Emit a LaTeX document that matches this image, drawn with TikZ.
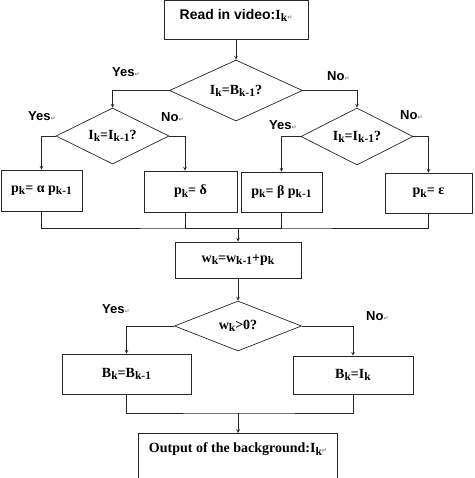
\documentclass[tikz,border=0pt]{standalone}
\usepackage{fontspec}
\setmainfont{Liberation Serif}
\newfontfamily\labelfont{Liberation Sans}
\newfontfamily\markfont{DejaVu Sans}
\usetikzlibrary{shapes.geometric}
\newcommand{\sub}[1]{\raisebox{-0.35ex}{\fontsize{11.5}{12}\selectfont #1}}
\newcommand{\ret}{{\markfont\fontsize{6}{6}\selectfont\color{gray}↵}}
\tikzset{
    flow/.style={draw=black!85, line width=0.7pt},
    box/.style={flow, rectangle, inner sep=0pt, font=\bfseries\fontsize{14}{16}\selectfont},
    cond/.style={flow, diamond, inner sep=0pt, shape aspect=2, font=\bfseries\fontsize{14}{16}\selectfont},
    lbl/.style={anchor=west, inner sep=0pt, font=\labelfont\bfseries\fontsize{13}{15}\selectfont},
    link/.style={flow, ->, >=stealth},
}
\begin{document}
\begin{tikzpicture}[x=1pt,y=-1pt]
        \useasboundingbox (0,0) rectangle (474,478);
        \def\boxHeight{41pt}

        \node[box, minimum width=144pt, text height=19.5pt, text depth=19.5pt, font=\labelfont\bfseries\fontsize{14}{16}\selectfont] (readIn) at (236,19.5) {Read in video:{\rmfamily I\sub{k}}\ret};

        \node[cond, minimum width=133pt, minimum height=61pt] (cmpBg) at (236,90.5) {I\sub{k}=B\sub{k-1}?};
        \node[cond, minimum width=113pt, minimum height=56pt] (cmpPrevL) at (112.5,136) {I\sub{k}=I\sub{k-1}?};
        \node[cond, minimum width=112pt, minimum height=57pt] (cmpPrevR) at (357,136.5) {I\sub{k}=I\sub{k-1}?};

        \node[box, minimum width=81pt, minimum height=\boxHeight] (pAlpha) at (41.5,190.5) {p\sub{k}= α p\sub{k-1}};
        \node[box, minimum width=93pt, minimum height=\boxHeight] (pDelta) at (190.5,191.5) {p\sub{k}= δ};
        \node[box, minimum width=81pt, minimum height=40pt] (pBeta) at (281.5,192) {p\sub{k}= β p\sub{k-1}};
        \node[box, minimum width=87pt, minimum height=40pt] (pEps) at (428.5,193) {p\sub{k}= ε};

        \node[box, minimum width=126pt, minimum height=36pt] (wUpdate) at (238,260) {w\sub{k}=w\sub{k-1}+p\sub{k}};
        \node[cond, minimum width=127pt, minimum height=50pt] (wTest) at (238,326) {w\sub{k}>0?};

        \node[box, minimum width=129pt, minimum height=40pt] (bKeep) at (126.5,374) {B\sub{k}=B\sub{k-1}};
        \node[box, minimum width=120pt, minimum height=38pt] (bNew) at (353,375) {B\sub{k}=I\sub{k}};

        \node[box, anchor=north, minimum width=199pt, text height=19.5pt, text depth=40.5pt] (outBg) at (238,433) {Output of the background:I\sub{k}\ret};

        \foreach \name/\px/\py/\txt in {yesBg/112/72/Yes, noBg/327/76/No, yesL/28/116/Yes, noL/161/117/No,
                yesR/269/125/Yes, noR/400/115/No, yesW/102/309/Yes, noW/366/316/No} {
                \node[lbl] (\name) at (\px,\py) {\txt\ret};
            }

        \draw[link] (readIn.south) -- (cmpBg.north);
        \draw[link] (cmpBg.west) -| (cmpPrevL.north);
        \draw[link] (cmpBg.east) -| (cmpPrevR.north);
        \draw[link] (cmpPrevL.west) -| (pAlpha.north);
        \draw[link] (cmpPrevL.east) -| ([xshift=-5.5pt]pDelta.north);
        \draw[link] (cmpPrevR.west) -| (pBeta.north);
        \draw[link] (cmpPrevR.east) -| (pEps.north);

        \coordinate (joinP) at (238,228);
        \draw[flow] (pAlpha.south) |- (joinP) -| (pEps.south);
        \draw[flow] ([xshift=-5.5pt]pDelta.south) |- (joinP);
        \draw[flow] (pBeta.south) |- (joinP);
        \draw[link] (joinP) -- (wUpdate.north);

        \draw[link] (wUpdate.south) -- (wTest.north);
        \draw[link] (wTest.west) -| (bKeep.north);
        \draw[link] (wTest.east) -| (bNew.north);

        \coordinate (joinB) at (238,413);
        \draw[flow] (bKeep.south) |- (joinB) -| (bNew.south);
        \draw[link] (joinB) -- (outBg.north);
    \end{tikzpicture}
\end{document}
